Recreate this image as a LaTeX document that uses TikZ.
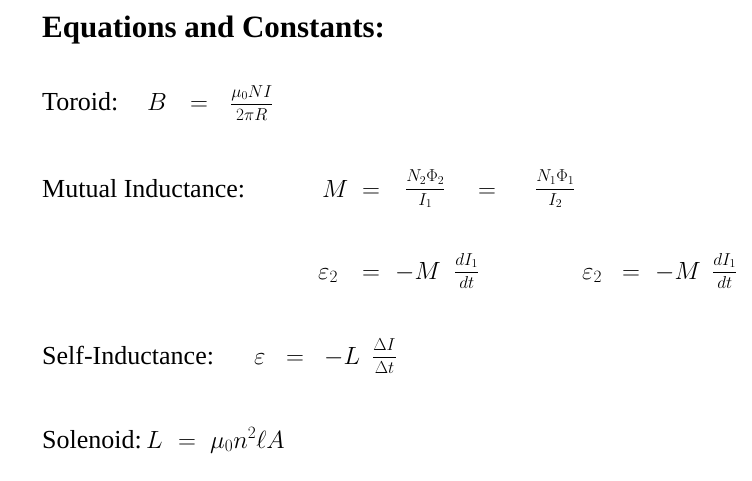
\documentclass[tikz,border=0pt]{standalone}
\usepackage{fontspec}
\setmainfont{Liberation Serif}
\begin{document}
\begin{tikzpicture}[x=1pt,y=-1pt,
  txt/.style={anchor=base west,inner sep=0pt,font=\fontsize{26}{30}\selectfont},
  frc/.style={anchor=west,inner sep=0pt,font=\fontsize{17}{20}\selectfont}]
\useasboundingbox (0,0) rectangle (752,481);
\node[txt,font=\fontsize{31}{35}\selectfont\bfseries] (title) at (42,38) {Equations and Constants:};
% Toroid
\node[txt] (tor) at (42,111) {Toroid:};
\node[txt] (torB) at (147,111) {$B$};
\node[txt] (tore) at (190,111) {$=$};
\node[frc] (torf) at (230,103) {$\displaystyle\frac{\mu_0 NI}{2\pi R}$};
% Mutual
\node[txt] (mut) at (42,197) {Mutual Inductance:};
\node[txt] (mutM) at (322,197) {$M$};
\node[txt] (mute) at (362,197) {$=$};
\node[frc] (mutf1) at (405,189) {$\displaystyle\frac{N_2\Phi_2}{I_1}$};
\node[txt] (mute2) at (478,197) {$=$};
\node[frc] (mutf2) at (535,189) {$\displaystyle\frac{N_1\Phi_1}{I_2}$};
% emf
\node[txt] (e1) at (318,279) {$\varepsilon_2$};
\node[txt] (e1e) at (362,279) {$=$};
\node[txt] (e1m) at (395,279) {$-M$};
\node[frc] (e1f) at (454,271) {$\displaystyle\frac{dI_1}{dt}$};
\node[txt] (e2) at (582,279) {$\varepsilon_2$};
\node[txt] (e2e) at (622,279) {$=$};
\node[txt] (e2m) at (655,279) {$-M$};
\node[frc] (e2f) at (712,271) {$\displaystyle\frac{dI_1}{dt}$};
% Self
\node[txt] (self) at (42,364) {Self-Inductance:};
\node[txt] (selfe) at (254,364) {$\varepsilon$};
\node[txt] (selfq) at (286,364) {$=$};
\node[txt] (selfL) at (324,364) {$-L$};
\node[frc] (selff) at (372,356) {$\displaystyle\frac{\Delta I}{\Delta t}$};
% Solenoid
\node[txt] (sol) at (42,448) {Solenoid:};
\node[txt] (solL) at (146,448) {$L$};
\node[txt] (sole) at (178,448) {$=$};
\node[txt] (solr) at (210,448) {$\mu_0 n^2 \ell A$};
\end{tikzpicture}
\end{document}
